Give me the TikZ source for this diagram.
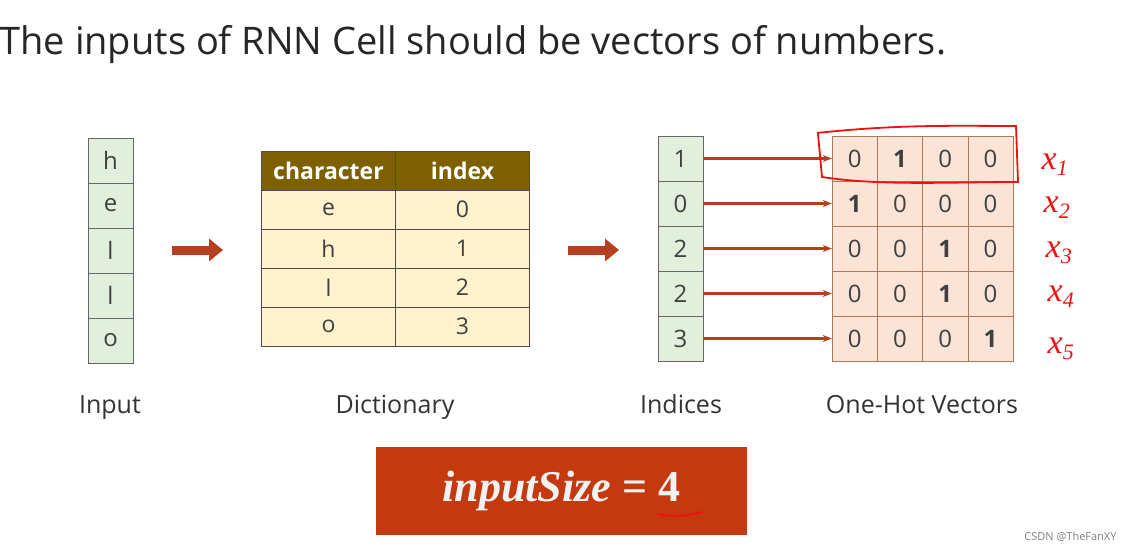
\documentclass[tikz,border=0pt]{standalone}
\usepackage{fontspec}
\setmainfont{Open Sans}
\newfontfamily\mathlike{Liberation Serif}
\usetikzlibrary{arrows.meta}
\definecolor{cgreen}{HTML}{E2EFDA}
\definecolor{cyel}{HTML}{FFF2CC}
\definecolor{cbrown}{HTML}{7F6000}
\definecolor{cpeach}{HTML}{FBE3D6}
\definecolor{cpeachb}{HTML}{A87A5A}
\definecolor{cred}{HTML}{C5390F}
\definecolor{carrow}{HTML}{B4401F}
\definecolor{cink}{HTML}{F01010}
\tikzset{
  gcell/.style={draw=gray!80!black,fill=cgreen,minimum width=45pt,minimum height=45pt,inner sep=0pt,font=\fontsize{24}{26}\selectfont,text=black!75},
  dcell/.style={draw=black!70,fill=cyel,minimum width=134pt,minimum height=39pt,inner sep=0pt,font=\fontsize{23}{25}\selectfont,text=black!75},
  dhead/.style={dcell,fill=cbrown,text=white,font=\bfseries\fontsize{23}{25}\selectfont},
  ocell/.style={draw=cpeachb,fill=cpeach,minimum width=45.25pt,minimum height=45pt,inner sep=0pt,font=\fontsize{24}{26}\selectfont,text=black!75},
  lab/.style={anchor=base,font=\fontsize{25}{27}\selectfont,text=black!80},
  big/.style={-{Triangle[length=14pt,width=22pt]},line width=9pt,carrow},
  thin/.style={-{Stealth[length=9pt,width=7pt]},line width=2.2pt,carrow},
  hw/.style={cink,font=\mathlike\itshape\fontsize{34}{36}\selectfont}
}
\begin{document}
\begin{tikzpicture}[x=1pt,y=-1pt]
\useasboundingbox[fill=white] (0,0) rectangle (1131,551);
\node[anchor=west,font=\fontsize{38}{40}\selectfont,text=black!85] (title) at (-4,45) {The inputs of RNN Cell should be vectors of numbers.};
% input
\foreach \t [count=\i] in {h,e,l,l,o}
  \node[gcell] (in\i) at (110.5,{138+22.5+45*(\i-1)}) {\t};
\node[lab] (linput) at (110,413) {Input};
% dictionary
\node[dhead] (dh1) at (328.5,170.5) {character};
\node[dhead] (dh2) at (462.5,170.5) {index};
\foreach \a/\b [count=\i] in {e/0,h/1,l/2,o/3}{
  \node[dcell] (da\i) at (328.5,{170.5+39*\i}) {\a};
  \node[dcell] (db\i) at (462.5,{170.5+39*\i}) {\b};
}
\node[lab] (ldict) at (395,413) {Dictionary};
% arrows
\coordinate (a1s) at (172,250); \coordinate (a1e) at (223,250);
\coordinate (a2s) at (568,250); \coordinate (a2e) at (619,250);
\draw[big] (a1s) -- (a1e);
\draw[big] (a2s) -- (a2e);
% indices
\foreach \t [count=\i] in {1,0,2,2,3}
  \node[gcell] (id\i) at (680.5,{136+22.5+45*(\i-1)}) {\t};
\node[lab] (lind) at (681,413) {Indices};
% one hot
\foreach \r/\row in {1/{0,1,0,0},2/{1,0,0,0},3/{0,0,1,0},4/{0,0,1,0},5/{0,0,0,1}}{
  \foreach \v [count=\c] in \row {
    \ifnum\v=1
      \node[ocell,font=\bfseries\fontsize{24}{26}\selectfont] (oh\r\c) at ({832+22.6+45.25*(\c-1)},{136+22.5+45*(\r-1)}) {\v};
    \else
      \node[ocell] (oh\r\c) at ({832+22.6+45.25*(\c-1)},{136+22.5+45*(\r-1)}) {\v};
    \fi
  }
}
\node[lab] (loh) at (922,413) {One-Hot Vectors};
\foreach \r in {1,...,5}
  \draw[thin] (id\r.east) -- (oh\r1.west);
% handwritten
\draw[cink,line width=1.8pt] (817,133) .. controls (900,124) and (960,126) .. (1016,126) -- (1018,182) .. controls (950,182) and (880,186) .. (822,177) -- (818,134);
\node[hw] (x1) at (1055,165) {x\textsubscript{\fontsize{22}{22}\selectfont 1}};
\node[hw] (x2) at (1057,208) {x\textsubscript{\fontsize{22}{22}\selectfont 2}};
\node[hw] (x3) at (1059,253) {x\textsubscript{\fontsize{22}{22}\selectfont 3}};
\node[hw] (x4) at (1061,297) {x\textsubscript{\fontsize{22}{22}\selectfont 4}};
\node[hw] (x5) at (1061,349) {x\textsubscript{\fontsize{22}{22}\selectfont 5}};
% bottom box
\node[fill=cred,minimum width=371pt,minimum height=88pt,inner sep=0pt,text=white!95!black,font=\mathlike\bfseries\fontsize{44}{46}\selectfont] (box) at (561.5,491) {\itshape inputSize\upshape{} = 4};
\draw[cink,line width=2pt,line cap=round] (658,514) .. controls (675,518) and (690,515) .. (703,512);
\node[font=\fontsize{11}{12}\selectfont,text=gray,anchor=east] (wm) at (1120,537) {CSDN @TheFanXY};
\end{tikzpicture}
\end{document}
